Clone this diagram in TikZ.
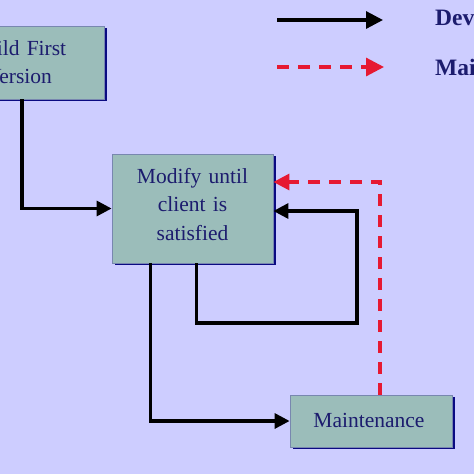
\documentclass[tikz,border=0pt]{standalone}
\usepackage{fontspec}
\setmainfont{Liberation Serif}
\usetikzlibrary{arrows.meta,shadows}
\definecolor{bgc}{RGB}{205,205,255}
\definecolor{boxc}{RGB}{155,189,186}
\definecolor{edgec}{RGB}{120,135,175}
\definecolor{shadc}{RGB}{10,10,130}
\definecolor{txtc}{RGB}{28,28,110}
\definecolor{redc}{RGB}{230,25,50}
\tikzset{
  procbox/.style={draw=edgec, line width=0.8pt, fill=boxc, inner sep=0pt,
    general shadow={fill=shadc, shadow xshift=2.5pt, shadow yshift=-2pt}},
  boxtext/.style={text=txtc, align=center, inner sep=0pt, text width=150pt,
    font=\fontsize{21.5}{28.5}\selectfont},
  devline/.style={draw=black, line width=3.2pt,
    -{Triangle[length=15pt,width=15pt]}},
  mntline/.style={draw=redc, line width=3.2pt, dash pattern=on 12pt off 9pt,
    -{Triangle[length=16pt,width=16pt]}},
  legtext/.style={anchor=west, text=txtc, inner sep=0pt,
    font=\fontsize{23.5}{28}\selectfont\bfseries},
}
\begin{document}
\begin{tikzpicture}[x=1pt,y=-1pt]
\useasboundingbox (0,0) rectangle (474,474);
\clip (0,0) rectangle (474,474);
\fill[bgc] (0,0) rectangle (474,474);

% boxes
\node[procbox, minimum width=164pt, minimum height=73pt] (b1) at (22,62.5) {};
\node[boxtext] (b1t) at (19,62) {Build First\\Version};
\node[procbox, minimum width=161pt, minimum height=109pt] (mod) at (192.5,208.5) {};
\node[boxtext] (modt) at (192.5,204.5) {Modify until\\client is\\satisfied};
\node[procbox, minimum width=162pt, minimum height=52pt] (mnt) at (371,421) {};
\node[boxtext] (mntt) at (369,420) {Maintenance};

% connectors
\coordinate (lc) at (357,323);
\draw[devline] (b1.south) |- (mod.west);
\draw[devline] ([xshift=39pt]mod.south west) |- (mnt.west);
\draw[devline] ([xshift=85pt]mod.south west) |- (lc) |- ([yshift=-2.5pt]mod.east);
\draw[mntline] ([xshift=9pt]mnt.north) |- ([yshift=26.5pt]mod.east);

% legend
\coordinate (la1) at (277,20);
\coordinate (la2) at (383,20);
\coordinate (lb1) at (277,67);
\coordinate (lb2) at (384,67);
\draw[devline, -{Triangle[length=17pt,width=17pt]}] (la1) -- (la2);
\draw[mntline, -{Triangle[length=18pt,width=18pt]}] (lb1) -- (lb2);
\node[legtext] (ld) at (435,20) {Development};
\node[legtext] (lm) at (435,67) {Maintenance};
\end{tikzpicture}
\end{document}
